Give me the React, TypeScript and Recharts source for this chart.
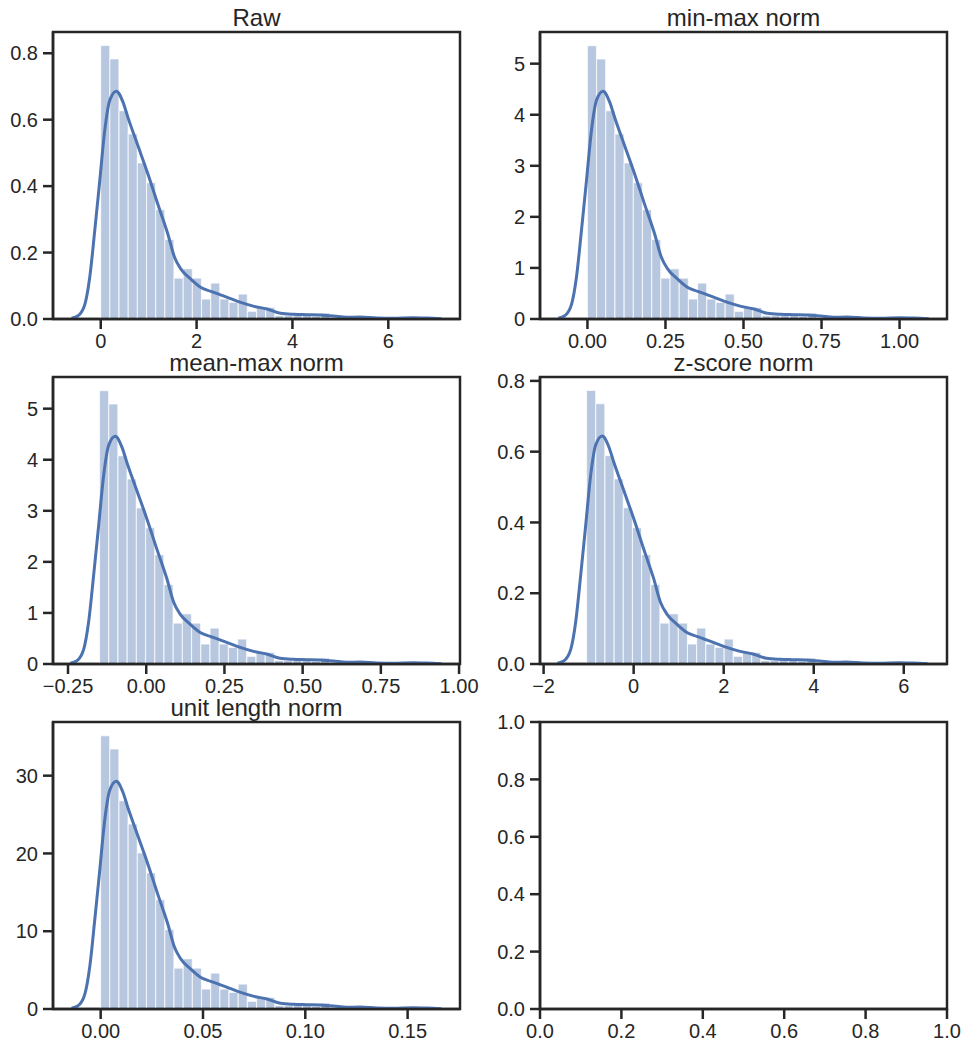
import React from "react";
import { ComposedChart, Bar, Line, XAxis, YAxis, ReferenceArea } from "recharts";

const TITLES = ["Raw", "min-max norm", "mean-max norm", "z-score norm", "unit length norm", ""];

// density histogram of the raw values: 34 bins starting at 0
const RAW_BIN_WIDTH = 0.1913;
const RAW_HIST = [
  0.823, 0.783, 0.627, 0.557, 0.47, 0.41, 0.329, 0.239, 0.123, 0.151, 0.123, 0.06,
  0.108, 0.06, 0.05, 0.075, 0.023, 0.035, 0.035, 0.01, 0.01, 0.012, 0.01, 0.008,
  0.018, 0.003, 0.003, 0.003, 0.008, 0, 0, 0, 0.003, 0.005,
];

// kde curve of the raw values
const KDE_X = [
  -0.61, -0.47, -0.33, -0.23, -0.125, -0.02, 0.083, 0.187, 0.325, 0.464, 0.567, 0.775,
  0.983, 1.19, 1.4, 1.54, 1.67, 1.88, 2.09, 2.3, 2.64, 2.92, 3.2, 3.47, 3.75, 4.03,
  4.3, 4.58, 4.86, 5.13, 5.41, 5.76, 6.1, 6.52, 6.8, 7.11,
];
const KDE_Y = [
  0.002, 0.01, 0.045, 0.125, 0.266, 0.417, 0.567, 0.658, 0.686, 0.653, 0.607, 0.522,
  0.437, 0.346, 0.256, 0.186, 0.151, 0.12, 0.095, 0.083, 0.065, 0.05, 0.038, 0.03,
  0.017, 0.014, 0.013, 0.012, 0.009, 0.005, 0.006, 0.003, 0.002, 0.004, 0.003, 0.001,
];

// each panel's x relates to the raw one as x' = x * scale + offset
const SCALES = [1, 0.1538, 0.1538, 1.065, 0.02343];
const OFFSETS = [0, 0, -0.149, -1.044, 0];

const X_DOMAINS = [[-0.996, 7.496], [-0.152, 1.152], [-0.298, 1.003], [-2.08, 6.96], [-0.0233, 0.1756], [0, 1]];
const Y_DOMAINS = [[0, 0.864], [0, 5.62], [0, 5.62], [0, 0.811], [0, 36.9], [0, 1]];
const X_TICKS = [
  [0, 2, 4, 6],
  [0, 0.25, 0.5, 0.75, 1],
  [-0.25, 0, 0.25, 0.5, 0.75, 1],
  [-2, 0, 2, 4, 6],
  [0, 0.05, 0.1, 0.15],
  [0, 0.2, 0.4, 0.6, 0.8, 1],
];
const Y_TICKS = [
  [0, 0.2, 0.4, 0.6, 0.8],
  [0, 1, 2, 3, 4, 5],
  [0, 1, 2, 3, 4, 5],
  [0, 0.2, 0.4, 0.6, 0.8],
  [0, 10, 20, 30],
  [0, 0.2, 0.4, 0.6, 0.8, 1],
];
const X_DIGITS = [0, 2, 2, 0, 2, 1];
const Y_DIGITS = [1, 0, 0, 1, 0, 1];

const PLOT_LEFT = [53, 540];
const PLOT_TOP = [32, 377, 722];
const PLOT_W = 407;
const PLOT_H = 287;
const Y_AXIS_W = 50;
const X_AXIS_H = 45;
const M_TOP = 14;
const M_RIGHT = 25;

const INK = "#262626";
const BLUE = "#4C72B0";
const FONT = "'Liberation Sans', Arial, sans-serif";

const fmt = (digits: number) => (v: number) => {
  const s = Math.abs(v).toFixed(digits);
  return v < 0 ? "\u2212" + s : s;
};

function Panel({ i }: { i: number }) {
  const col = i % 2;
  const row = Math.floor(i / 2);
  const left = PLOT_LEFT[col];
  const top = PLOT_TOP[row];
  const hasData = i < 5;

  const bars = hasData
    ? RAW_HIST.map((h, k) => ({
        x: (k + 0.5) * RAW_BIN_WIDTH * SCALES[i] + OFFSETS[i],
        h: h / SCALES[i],
      }))
    : [];
  const kde = hasData
    ? KDE_X.map((x, k) => ({ x: x * SCALES[i] + OFFSETS[i], d: KDE_Y[k] / SCALES[i] }))
    : [];

  const tick = { fontSize: 20, fill: INK, fontFamily: FONT };
  const line = { stroke: INK, strokeWidth: 2.5 };

  return (
    <>
      {TITLES[i] && (
        <div
          style={{
            position: "absolute",
            left,
            top: top - 26,
            width: PLOT_W,
            textAlign: "center",
            fontSize: 24,
            lineHeight: "24px",
            fontFamily: FONT,
            color: INK,
            whiteSpace: "nowrap",
            zIndex: 2,
          }}
        >
          {TITLES[i]}
        </div>
      )}
      <div style={{ position: "absolute", left: left - Y_AXIS_W, top: top - M_TOP }}>
        <ComposedChart
          width={Y_AXIS_W + PLOT_W + M_RIGHT}
          height={M_TOP + PLOT_H + X_AXIS_H}
          data={bars}
          margin={{ top: M_TOP, right: M_RIGHT, bottom: 0, left: 0 }}
          barCategoryGap={0}
          barGap={0}
        >
          <XAxis
            xAxisId="main"
            dataKey="x"
            type="number"
            domain={X_DOMAINS[i]}
            allowDataOverflow
            ticks={X_TICKS[i]}
            interval={0}
            tickFormatter={fmt(X_DIGITS[i])}
            tick={tick}
            tickSize={10}
            tickMargin={5}
            tickLine={line}
            axisLine={line}
            height={X_AXIS_H}
          />
          <XAxis
            xAxisId="kde"
            dataKey="x"
            type="number"
            domain={X_DOMAINS[i]}
            allowDataOverflow
            hide
            height={0}
          />
          <YAxis
            yAxisId="left"
            type="number"
            domain={Y_DOMAINS[i]}
            allowDataOverflow
            ticks={Y_TICKS[i]}
            interval={0}
            tickFormatter={fmt(Y_DIGITS[i])}
            tick={tick}
            tickSize={10}
            tickMargin={5}
            tickLine={line}
            axisLine={line}
            width={Y_AXIS_W}
          />
          {hasData && (
            <Bar
              xAxisId="main"
              yAxisId="left"
              dataKey="h"
              fill={BLUE}
              fillOpacity={0.4}
              stroke="#ffffff"
              strokeOpacity={0.7}
              strokeWidth={1}
              isAnimationActive={false}
            />
          )}
          {hasData && (
            <Line
              xAxisId="kde"
              yAxisId="left"
              data={kde}
              dataKey="d"
              type="monotone"
              stroke={BLUE}
              strokeWidth={3}
              dot={false}
              isAnimationActive={false}
            />
          )}
          {/* axes box (top and right spines) */}
          <ReferenceArea
            xAxisId="main"
            yAxisId="left"
            x1={X_DOMAINS[i][0]}
            x2={X_DOMAINS[i][1]}
            y1={Y_DOMAINS[i][0]}
            y2={Y_DOMAINS[i][1]}
            fill="none"
            stroke={INK}
            strokeWidth={2.5}
            ifOverflow="visible"
          />
        </ComposedChart>
      </div>
    </>
  );
}

export default function App() {
  return (
    <div
      style={{
        position: "absolute",
        left: 0,
        top: 0,
        width: 968,
        height: 1052,
        overflow: "hidden",
        background: "#ffffff",
      }}
    >
      {[0, 1, 2, 3, 4, 5].map((i) => (
        <Panel key={i} i={i} />
      ))}
    </div>
  );
}
